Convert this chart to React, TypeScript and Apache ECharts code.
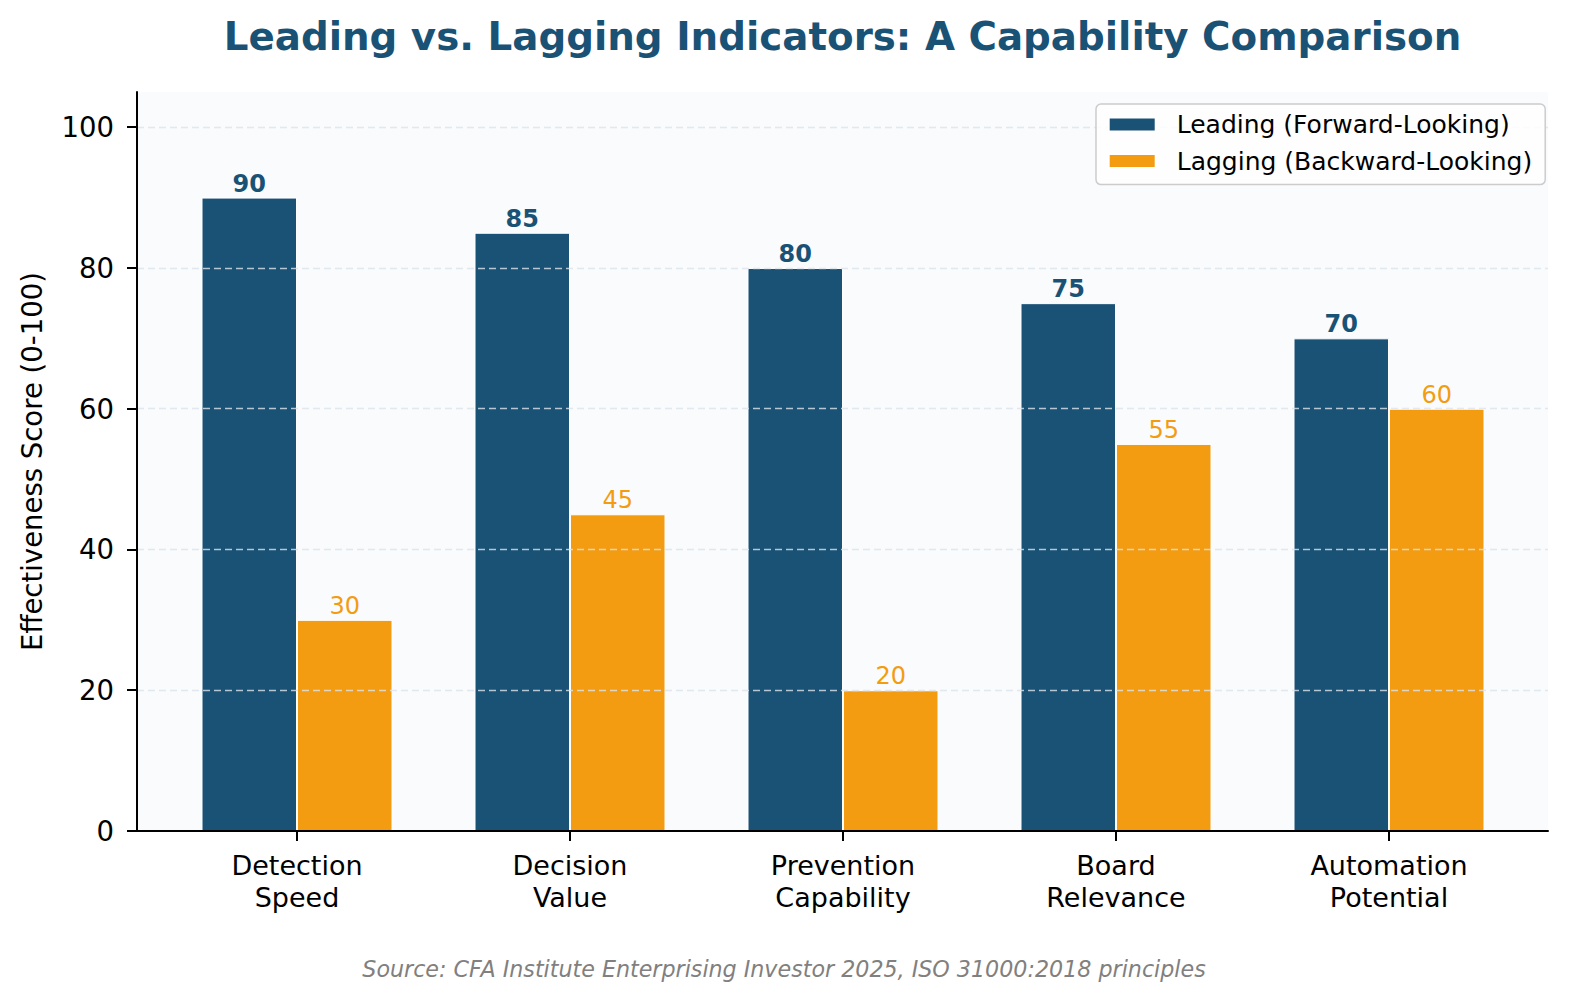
import React, { useEffect, useRef } from 'react';
import * as echarts from 'echarts';

const categories = ['Detection\nSpeed', 'Decision\nValue', 'Prevention\nCapability', 'Board\nRelevance', 'Automation\nPotential'];
const leadingValues = [90, 85, 80, 75, 70];
const laggingValues = [30, 45, 20, 55, 60];
const yTicks = [0, 20, 40, 60, 80, 100];
const seriesNames = ['Leading (Forward-Looking)', 'Lagging (Backward-Looking)'];
const titleText = 'Leading vs. Lagging Indicators: A Capability Comparison';
const sourceText = 'Source: CFA Institute Enterprising Investor 2025, ISO 31000:2018 principles';
const yName = 'Effectiveness Score (0-100)';

const BLUE = '#1a5276';
const ORANGE = '#f39c12';
const FONT = '"DejaVu Sans", Verdana, sans-serif';
const GRIDC = 'rgba(221,227,234,0.8)';

export default function App() {
  const ref = useRef<HTMLDivElement>(null);
  useEffect(() => {
    if (!ref.current) return;
    const chart = echarts.init(ref.current, undefined, { renderer: 'svg' });
    const option: any = {
      animation: false,
      backgroundColor: '#ffffff',
      textStyle: { fontFamily: FONT },
      title: [
        {
          text: titleText,
          left: 842.5,
          textAlign: 'center',
          top: 17,
          padding: 0,
          textStyle: { fontSize: 38.8, fontWeight: 'bold', color: BLUE, fontFamily: FONT },
        },
        {
          text: sourceText,
          left: 784,
          textAlign: 'center',
          top: 958,
          padding: 0,
          textStyle: { fontSize: 22.2, fontStyle: 'italic', fontWeight: 'normal', color: '#808080', fontFamily: FONT },
        },
      ],
      legend: {
        orient: 'vertical',
        left: 1096,
        top: 104,
        itemWidth: 47,
        itemHeight: 14,
        itemGap: 11.6,
        padding: [8, 13, 11, 11.7],
        backgroundColor: 'rgba(255,255,255,0.8)',
        borderColor: '#cccccc',
        borderWidth: 1.5,
        borderRadius: 5,
        icon: 'rect',
        data: seriesNames,
        textStyle: { fontSize: 25, color: '#000', fontFamily: FONT, padding: [0, 0, 0, 16] },
      },
      grid: [
        { left: 137, top: 92, width: 1411, height: 739, show: true, backgroundColor: '#f9fbfd', borderWidth: 0 },
        { left: 160.5, top: 92, width: 1365, height: 739, show: false },
      ],
      xAxis: [
        {
          type: 'value', gridIndex: 0, min: 0, max: 1, z: 4,
          axisLine: { show: true, onZero: false, lineStyle: { color: '#000', width: 2 } },
          axisTick: { show: false }, axisLabel: { show: false }, splitLine: { show: false },
        },
        {
          type: 'category', gridIndex: 1, data: categories,
          axisLine: { show: false },
          axisTick: { show: true, alignWithLabel: true, length: 10, lineStyle: { color: '#000', width: 2 } },
          axisLabel: { margin: 18, fontSize: 27, lineHeight: 32, color: '#000', interval: 0, fontFamily: FONT },
          splitLine: { show: false },
        },
      ],
      yAxis: [
        {
          type: 'value', gridIndex: 0, min: 0, max: 105, interval: 20, z: 3,
          name: yName, nameLocation: 'middle', nameGap: 91,
          nameTextStyle: { fontSize: 27.5, color: '#000', fontFamily: FONT },
          axisLine: { show: true, lineStyle: { color: '#000', width: 2 } },
          axisTick: { show: true, length: 10, customValues: yTicks, lineStyle: { color: '#000', width: 2 } },
          axisLabel: { customValues: yTicks, margin: 23, fontSize: 27.5, color: '#000', fontFamily: FONT },
          splitLine: {
            show: true,
            lineStyle: { color: ['rgba(0,0,0,0)', GRIDC, GRIDC, GRIDC, GRIDC, GRIDC, 'rgba(0,0,0,0)'], type: [7, 4], width: 1.3 },
          },
        },
        { type: 'value', gridIndex: 1, min: 0, max: 105, show: false },
      ],
      series: [
        {
          type: 'bar', name: seriesNames[0], xAxisIndex: 1, yAxisIndex: 1, data: leadingValues,
          barWidth: 95.5, barGap: '0%', z: 2,
          itemStyle: { color: BLUE, borderColor: '#ffffff', borderWidth: 1 },
          label: { show: true, position: 'top', distance: 2, fontSize: 24, fontWeight: 'bold', color: BLUE, fontFamily: FONT },
        },
        {
          type: 'bar', name: seriesNames[1], xAxisIndex: 1, yAxisIndex: 1, data: laggingValues,
          barWidth: 95.5, barGap: '0%', z: 2,
          itemStyle: { color: ORANGE, borderColor: '#ffffff', borderWidth: 1 },
          label: { show: true, position: 'top', distance: 2, fontSize: 24, color: ORANGE, fontFamily: FONT },
        },
      ],
    };
    chart.setOption(option);
    return () => chart.dispose();
  }, []);
  return <div ref={ref} style={{ position: 'fixed', left: 0, top: 0, width: 1574, height: 1001 }} />;
}
